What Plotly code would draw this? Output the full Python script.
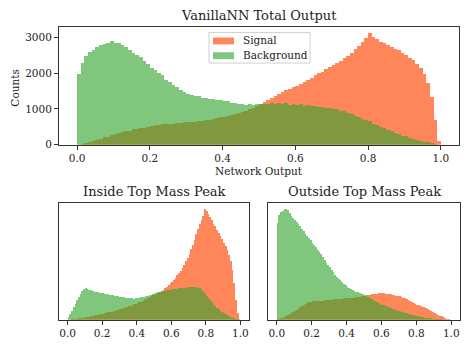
import numpy as np
import plotly.graph_objects as go

# ---- data (100 bins on [0,1]) ----
bin_edges = np.linspace(0.0, 1.0, 101)

total_signal = [10, 30, 55, 95, 115, 150, 175, 215, 235, 275, 295, 335, 355, 395, 405, 435, 445, 475, 485, 515,
                525, 555, 555, 575, 575, 595, 595, 615, 615, 635, 640, 655, 655, 675, 680, 705, 705, 735, 745, 775,
                785, 815, 835, 875, 895, 935, 965, 1015, 1045, 1105, 1150, 1195, 1260, 1315, 1380, 1425, 1480, 1530, 1580, 1615,
                1660, 1715, 1770, 1830, 1890, 1950, 2010, 2060, 2130, 2180, 2250, 2310, 2360, 2430, 2500, 2590, 2680, 2780, 2880, 2990,
                3150, 3040, 2960, 2900, 2860, 2800, 2760, 2700, 2660, 2580, 2530, 2450, 2390, 2280, 2150, 2000, 1750, 1350, 700, 120]

total_background = [2000, 2300, 2500, 2610, 2670, 2760, 2790, 2830, 2860, 2910, 2850, 2860, 2790, 2760, 2670, 2590, 2510, 2460, 2350, 2270,
                    2160, 2110, 2010, 1950, 1820, 1770, 1670, 1620, 1530, 1490, 1420, 1410, 1370, 1360, 1320, 1330, 1290, 1300, 1260, 1260,
                    1220, 1220, 1180, 1180, 1150, 1160, 1130, 1160, 1130, 1160, 1150, 1160, 1150, 1180, 1150, 1180, 1140, 1170, 1130, 1150,
                    1110, 1140, 1100, 1110, 1080, 1090, 1060, 1070, 1030, 1040, 1000, 1000, 950, 940, 890, 870, 820, 790, 730, 700,
                    660, 600, 560, 510, 470, 420, 390, 340, 310, 260, 240, 190, 170, 130, 120, 90, 70, 50, 30, 10]

inside_signal = [0, 3, 5, 8, 10, 12, 15, 17, 20, 22, 25, 28, 30, 33, 36, 40, 43, 46, 50, 53,
                 57, 60, 64, 68, 72, 76, 80, 84, 88, 92, 96, 100, 105, 110, 116, 122, 128, 134, 140, 146,
                 152, 158, 165, 172, 180, 188, 196, 204, 212, 220, 228, 236, 244, 252, 262, 272, 285, 300, 315, 330,
                 345, 362, 380, 400, 420, 440, 465, 495, 525, 560, 595, 635, 675, 720, 770, 815, 860, 900, 935, 1000,
                 975, 950, 925, 895, 865, 840, 810, 780, 755, 725, 695, 665, 630, 585, 530, 450, 330, 180, 60, 8]

inside_background = [25, 55, 85, 115, 145, 175, 205, 235, 260, 280, 285, 280, 270, 265, 258, 254, 250, 247, 244, 242,
                     240, 236, 232, 229, 226, 224, 221, 218, 215, 212, 210, 207, 204, 200, 198, 196, 194, 193, 192, 193,
                     195, 198, 202, 206, 210, 214, 218, 222, 228, 233, 240, 244, 248, 252, 256, 260, 264, 267, 270, 273,
                     276, 278, 280, 282, 283, 285, 287, 289, 291, 293, 295, 296, 297, 296, 294, 290, 283, 272, 257, 238,
                     218, 198, 180, 162, 145, 128, 112, 97, 84, 72, 62, 52, 43, 35, 28, 21, 15, 10, 5, 2]

outside_signal = [5, 10, 15, 22, 28, 35, 45, 55, 65, 72, 79, 90, 102, 115, 126, 137, 145, 152, 158, 163,
                  167, 169, 170, 171, 172, 172, 174, 176, 178, 180, 181, 183, 185, 187, 189, 190, 191, 192, 194, 195,
                  196, 197, 198, 200, 201, 202, 205, 209, 213, 216, 219, 222, 225, 228, 230, 231, 234, 236, 238, 239,
                  240, 239, 237, 235, 233, 231, 227, 222, 218, 214, 211, 205, 199, 193, 187, 181, 172, 163, 154, 146,
                  137, 131, 125, 118, 113, 108, 99, 90, 81, 72, 64, 56, 48, 40, 33, 26, 20, 12, 5, 1]

outside_background = [870, 940, 965, 980, 995, 1000, 985, 960, 935, 915, 900, 880, 860, 840, 815, 795, 775, 755, 735, 715,
                      695, 675, 655, 632, 610, 590, 565, 540, 515, 495, 475, 450, 428, 405, 385, 370, 355, 340, 325, 310,
                      298, 288, 278, 268, 260, 254, 248, 242, 236, 230, 225, 216, 207, 198, 190, 181, 172, 163, 154, 145,
                      137, 131, 125, 119, 113, 108, 102, 96, 90, 85, 79, 74, 69, 64, 60, 56, 51, 47, 43, 39,
                      35, 32, 29, 26, 23, 20, 18, 16, 14, 13, 12, 10, 9, 8, 7, 6, 4, 3, 2, 1]

x_ticks = [0.0, 0.2, 0.4, 0.6, 0.8, 1.0]
count_ticks = [0, 1000, 2000, 3000]
legend_labels = ["Signal", "Background"]

centers = (bin_edges[:-1] + bin_edges[1:]) / 2
widths = np.diff(bin_edges)

SIG = "rgba(255,127,80,0.95)"
BKG = "rgba(50,165,45,0.62)"
FONT = "DejaVu Serif"
TXT = "#222222"

# page offset compensation (body margin of the html page)
OFF = 8
W, H = 474, 355


def px(x):
    return (x - OFF) / W


def py(y):
    return 1 - (y - OFF) / H


fig = go.Figure()

panels = [
    ("x", "y", total_signal, total_background),
    ("x2", "y2", inside_signal, inside_background),
    ("x3", "y3", outside_signal, outside_background),
]
for xa, ya, s, b in panels:
    fig.add_trace(go.Bar(x=centers, y=s, width=widths, marker=dict(color=SIG, line=dict(width=0)),
                         name=legend_labels[0], showlegend=False, xaxis=xa, yaxis=ya))
    fig.add_trace(go.Bar(x=centers, y=b, width=widths, marker=dict(color=BKG, line=dict(width=0)),
                         name=legend_labels[1], showlegend=False, xaxis=xa, yaxis=ya))

axis_common = dict(showline=True, mirror=True, linecolor="#333333", linewidth=1,
                   ticks="outside", ticklen=4, tickcolor="#333333", showgrid=False, zeroline=False,
                   tickfont=dict(family=FONT, size=10.5, color=TXT))

xcommon = dict(axis_common, range=[-0.05, 1.05], tickvals=x_ticks, ticktext=[f"{v:.1f}" for v in x_ticks])

annotations = [
    dict(text="VanillaNN Total Output", x=px(259), y=py(16), xref="paper", yref="paper",
         showarrow=False, font=dict(family=FONT, size=13, color=TXT), xanchor="center", yanchor="middle"),
    dict(text="Inside Top Mass Peak", x=px(154), y=py(195), xref="paper", yref="paper",
         showarrow=False, font=dict(family=FONT, size=13, color=TXT), xanchor="center", yanchor="middle"),
    dict(text="Outside Top Mass Peak", x=px(364), y=py(195), xref="paper", yref="paper",
         showarrow=False, font=dict(family=FONT, size=13, color=TXT), xanchor="center", yanchor="middle"),
    dict(text="Network Output", x=px(259), y=py(174), xref="paper", yref="paper",
         showarrow=False, font=dict(family=FONT, size=10.5, color=TXT), xanchor="center", yanchor="middle"),
    dict(text="Counts", x=px(15), y=py(89), xref="paper", yref="paper", textangle=-90,
         showarrow=False, font=dict(family=FONT, size=10.5, color=TXT), xanchor="center", yanchor="middle"),
    dict(text=legend_labels[0], x=px(241), y=py(41), xref="paper", yref="paper",
         showarrow=False, font=dict(family=FONT, size=10.5, color=TXT), xanchor="left", yanchor="middle"),
    dict(text=legend_labels[1], x=px(241), y=py(56), xref="paper", yref="paper",
         showarrow=False, font=dict(family=FONT, size=10.5, color=TXT), xanchor="left", yanchor="middle"),
]

shapes = [
    dict(type="rect", xref="paper", yref="paper", x0=px(209), x1=px(310), y0=py(33), y1=py(64),
         fillcolor="rgba(255,255,255,0.8)", line=dict(color="#d0d0d0", width=1), layer="above"),
    dict(type="rect", xref="paper", yref="paper", x0=px(213), x1=px(234), y0=py(38), y1=py(45),
         fillcolor=SIG, line=dict(width=0), layer="above"),
    dict(type="rect", xref="paper", yref="paper", x0=px(213), x1=px(234), y0=py(53), y1=py(60),
         fillcolor=BKG, line=dict(width=0), layer="above"),
]

fig.update_layout(
    width=W, height=H,
    margin=dict(l=0, r=0, t=0, b=0),
    paper_bgcolor="white", plot_bgcolor="white",
    barmode="overlay", bargap=0, showlegend=False,
    font=dict(family=FONT, size=10.5, color=TXT),
    xaxis=dict(xcommon, domain=[px(59), px(459)], anchor="y"),
    yaxis=dict(axis_common, domain=[py(147), py(27)], anchor="x",
               range=[0, 1.05*max(max(total_signal), max(total_background))],
               tickvals=count_ticks),
    xaxis2=dict(xcommon, domain=[px(59), px(249)], anchor="y2"),
    yaxis2=dict(axis_common, domain=[py(325), py(206)], anchor="x2",
                range=[0, 1.05*max(max(inside_signal), max(inside_background))],
                showticklabels=False, ticks=""),
    xaxis3=dict(xcommon, domain=[px(268), px(460)], anchor="y3"),
    yaxis3=dict(axis_common, domain=[py(325), py(206)], anchor="x3",
                range=[0, 1.05*max(max(outside_signal), max(outside_background))],
                showticklabels=False, ticks=""),
    annotations=annotations,
    shapes=shapes,
)

fig.write_html("out.html")
